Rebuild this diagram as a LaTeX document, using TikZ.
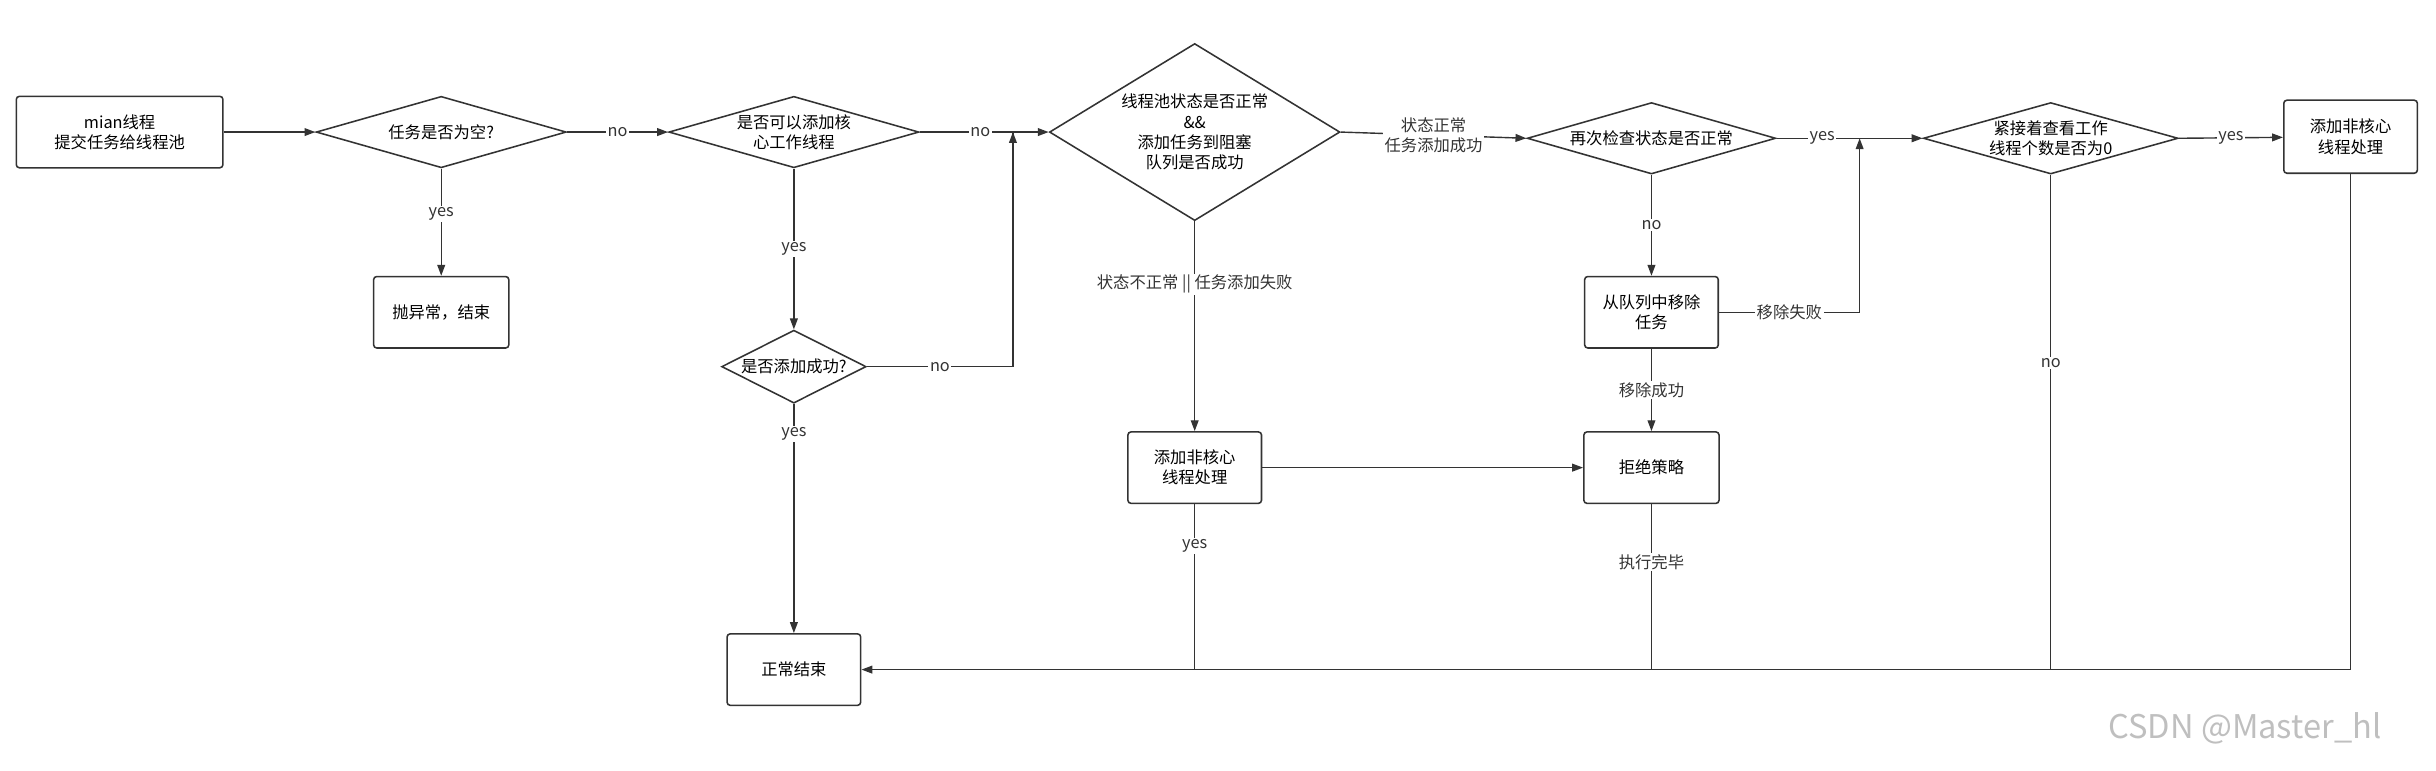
\documentclass[tikz,border=0pt]{standalone}
\usepackage{fontspec}
\setmainfont{Noto Sans CJK SC}
\usetikzlibrary{shapes.geometric,arrows.meta}
\definecolor{ln}{HTML}{333333}
\begin{document}
\begin{tikzpicture}[x=1pt,y=-1pt,font=\fontsize{10.5}{13}\selectfont,
  box/.style={draw=ln,line width=1pt,rounded corners=2pt,align=center,inner sep=0pt},
  dia/.style={draw=ln,line width=1pt,diamond,inner sep=0pt},
  ar/.style={draw=ln,line width=0.9pt,-{Triangle[length=7pt,width=5pt]}},
  pl/.style={draw=ln,line width=0.9pt},
  lb/.style={fill=white,inner sep=1pt,align=center,text=ln}]
\useasboundingbox (0,0) rectangle (1568,496);
\fill[white] (0,0) rectangle (1568,496);
\node[box,minimum width=133,minimum height=46] (m) at (77,85) {mian线程\\提交任务给线程池};
\node[dia,minimum width=161,minimum height=46] (d1) at (284,85) {};
\node at (d1) {任务是否为空?};
\node[box,minimum width=87,minimum height=46] (ex) at (284,201) {抛异常，结束};
\node[dia,minimum width=161,minimum height=46] (d2) at (511,85) {};
\node[align=center] at (d2) {是否可以添加核\\心工作线程};
\node[dia,minimum width=93,minimum height=47] (d4) at (511,236) {};
\node at (d4) {是否添加成功?};
\node[box,minimum width=86,minimum height=46] (end) at (511,431) {正常结束};
\node[dia,minimum width=187,minimum height=114] (d3) at (769,85) {};
\node[align=center] at (d3) {线程池状态是否正常\\\&\&\\添加任务到阻塞\\队列是否成功};
\node[box,minimum width=86,minimum height=46] (nc1) at (769,301) {添加非核心\\线程处理};
\node[dia,minimum width=160,minimum height=46] (d5) at (1063,89) {};
\node at (d5) {再次检查状态是否正常};
\node[box,minimum width=86,minimum height=46] (rm) at (1063,201) {从队列中移除\\任务};
\node[box,minimum width=87,minimum height=46] (rj) at (1063,301) {拒绝策略};
\node[dia,minimum width=164,minimum height=46] (d6) at (1320,89) {};
\node[align=center] at (d6) {紧接着查看工作\\线程个数是否为0};
\node[box,minimum width=86,minimum height=47] (nc2) at (1513,88) {添加非核心\\线程处理};
\coordinate (j1) at (652,85);
\coordinate (j2) at (1197,89);
\coordinate (b1) at (1513,431);
\coordinate (b2) at (1320,431);
\coordinate (b3) at (1063,431);
\coordinate (b4) at (769,431);
% connectors
\draw[ar] (m) -- (d1);
\draw[ar] (d1) -- node[lb]{no} (d2);
\draw[ar] (d1) -- node[lb,pos=0.42]{yes} (ex);
\draw[pl] (d2.east) -- node[lb,pos=0.65]{no} (j1);
\draw[ar] (j1) -- (d3.west);
\draw[ar] (d2) -- node[lb,pos=0.5]{yes} (d4);
\draw[pl] (d4.east) -- node[lb]{no} (652,236) -- (j1);
\draw[ar] (652,236) -- (j1);
\draw[ar] (d4) -- node[lb,pos=0.13]{yes} (end);
\draw[ar] (d3.east) -- node[lb]{状态正常\\任务添加成功} (d5.west);
\draw[ar] (d3) -- node[lb,pos=0.3]{状态不正常 || 任务添加失败} (nc1);
\draw[pl] (d5.east) -- node[lb,pos=0.55]{yes} (j2);
\draw[ar] (j2) -- (d6.west);
\draw[ar] (d6.east) -- node[lb]{yes} (nc2);
\draw[ar] (d5) -- node[lb]{no} (rm);
\draw[pl] (rm.east) -- node[lb]{移除失败} (1197,201);
\draw[ar] (1197,201) -- (j2);
\draw[ar] (rm) -- node[lb]{移除成功} (rj);
\draw[ar] (nc1) -- (rj);
\draw[pl] (nc2) -- (b1);
\draw[ar] (b1) -- (end);
\draw[pl] (d6.south) -- node[lb,pos=0.38]{no} (b2);
\draw[pl] (rj) -- node[lb,pos=0.35]{执行完毕} (b3);
\draw[pl] (nc1) -- node[lb,pos=0.25]{yes} (b4);
\node[text=black!25,font=\fontsize{21}{24}\selectfont] at (1445,469) {CSDN @Master\_hl};
\end{tikzpicture}
\end{document}
